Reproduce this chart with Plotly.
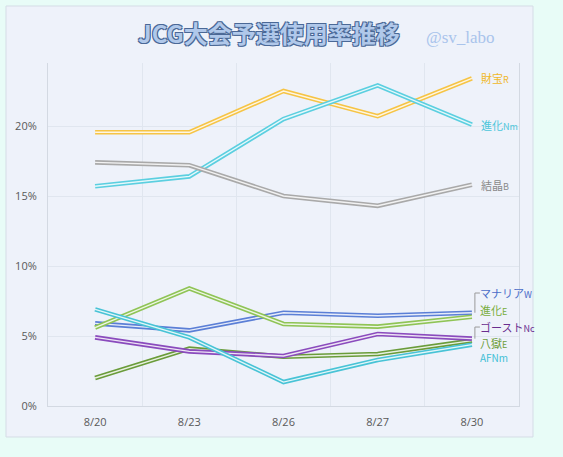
import plotly.graph_objects as go

dates = ["8/20", "8/23", "8/26", "8/27", "8/30"]

zaiho_r = [19.55, 19.55, 22.5, 20.7, 23.4]
shinka_nm = [15.7, 16.4, 20.5, 22.9, 20.1]
kessho_b = [17.4, 17.2, 15.0, 14.3, 15.8]
manaria_w = [5.9, 5.4, 6.66, 6.45, 6.66]
shinka_e = [5.6, 8.4, 5.86, 5.67, 6.38]
afnm = [6.9, 4.9, 1.71, 3.29, 4.38]
ghost_nc = [4.9, 3.9, 3.57, 5.14, 4.81]
hachigoku_e = [2.0, 4.1, 3.52, 3.71, 4.67]

series = [
    ("財宝", "R", zaiho_r, "#f6c445", "#f0b829", 23.4),
    ("進化", "Nm", shinka_nm, "#5bcfe0", "#4cc6da", 20.1),
    ("結晶", "B", kessho_b, "#a9a9a9", "#8a8a8a", 15.8),
    ("マナリア", "W", manaria_w, "#5b7fd6", "#4a6cc8", 8.07),
    ("進化", "E", shinka_e, "#8fc456", "#78ad3c", 6.86),
    ("八獄", "E", hachigoku_e, "#6a9c3a", "#6f9e3a", 4.5),
    ("ゴースト", "Nc", ghost_nc, "#8a4bbd", "#6a2d8f", 5.64),
    ("AFNm", "", afnm, "#48c3d6", "#3fbfd6", 3.43),
]

fig = go.Figure()
for name, suf, vals, col, tcol, ly in series:
    fig.add_trace(go.Scatter(x=dates, y=vals, mode="lines",
                             line=dict(color=col, width=4.6), hoverinfo="skip",
                             showlegend=False))
    fig.add_trace(go.Scatter(x=dates, y=vals, mode="lines",
                             line=dict(color="rgba(255,255,255,0.85)", width=1.4),
                             hoverinfo="skip", showlegend=False))

annotations = []
for i, (name, suf, vals, col, tcol, ly) in enumerate(series):
    xs = 7 if i < 3 else 6
    txt = name + (f"<span style='font-size:9px'>{suf}</span>" if suf else "")
    if name == "AFNm":
        txt = "<span style='font-size:10px'>AFNm</span>"
    annotations.append(dict(x=dates[-1], y=ly, xref="x", yref="y", text=txt,
                            showarrow=False, xanchor="left", yanchor="middle",
                            xshift=xs, font=dict(family="Noto Sans CJK JP", size=11, color=tcol)))

# title
annotations.append(dict(xref="paper", yref="paper", x=0.469, y=1.0875,
                        text="<b>JCG大会予選使用率推移</b>", showarrow=False,
                        font=dict(family="Noto Sans CJK JP", size=24, color="#b0c8ea",
                                  shadow="1px 1px 0 #4a6896, -1px -1px 0 #4a6896, 1px -1px 0 #4a6896, -1px 1px 0 #4a6896"),
                        xanchor="center", yanchor="middle"))
annotations.append(dict(xref="paper", yref="paper", x=0.875, y=1.0758,
                        text="@sv_labo", showarrow=False,
                        font=dict(family="Liberation Serif", size=17, color="#a9c4ec"),
                        xanchor="center", yanchor="middle"))

shapes = [
    dict(type="rect", xref="paper", yref="paper", x0=-0.0892, x1=1.0297, y0=-0.0904, y1=1.1662,
         fillcolor="#eef2fa", line=dict(color="#d5dde6", width=1), layer="below"),
]
# leader lines
for idx in (3, 6):
    name, suf, vals, col, tcol, ly = series[idx]
    shapes.append(dict(type="path", xref="x", yref="y", xsizemode="pixel", xanchor=4,
                       path=f"M 8,{ly} L 3,{ly} L 3,{vals[-1]}",
                       line=dict(color="#9a9a9a", width=1)))

fig.update_layout(
    width=563, height=457,
    margin=dict(l=48, r=44, t=63, b=51),
    paper_bgcolor="#e8fcf7",
    plot_bgcolor="#eef2fa",
    showlegend=False,
    annotations=annotations,
    shapes=shapes,
    xaxis=dict(type="category", range=[-0.5, 4.5], tickson="boundaries",
               showgrid=True, gridcolor="#e0e6ef", showline=True, linecolor="#d3d9e2",
               ticks="", tickfont=dict(family="Open Sans", size=11, color="#595959"),
               ticklabelstandoff=6),
    yaxis=dict(range=[0, 24.5], dtick=5, ticksuffix="%", showgrid=True,
               gridcolor="#e0e6ef", showline=True, linecolor="#d3d9e2", mirror=True,
               zeroline=False, ticks="", tickfont=dict(family="Open Sans", size=11, color="#595959"),
               ticklabelstandoff=8),
)

fig.write_html("out.html", config={"displayModeBar": False},
               post_script="document.body.style.margin='0';document.body.style.overflow='hidden';")
